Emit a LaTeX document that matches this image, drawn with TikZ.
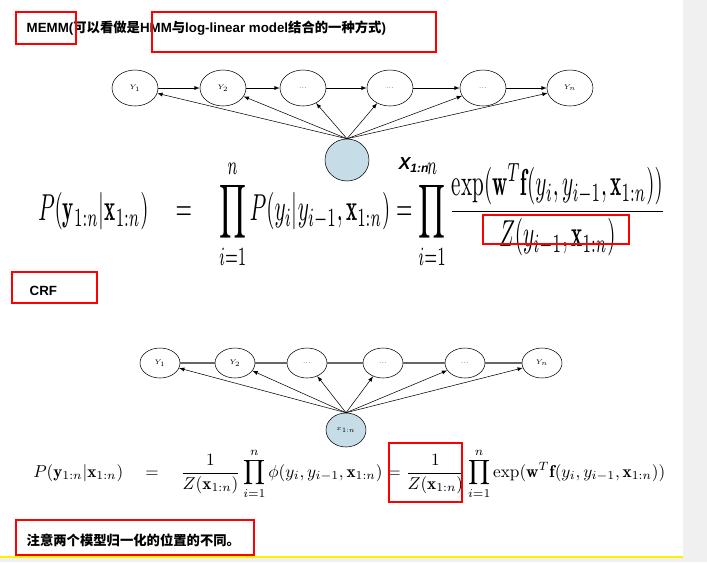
\documentclass[tikz,border=0pt]{standalone}
\usepackage{amsmath,graphicx}
\usepackage{fontspec}
\usetikzlibrary{shapes.geometric}
\setsansfont{Liberation Sans}
\newfontfamily\cjk{Noto Sans CJK SC}
\begin{document}
\begin{tikzpicture}[x=0.75pt,y=-0.75pt,
  ybig/.style={draw,ellipse,minimum width=46*0.75pt,minimum height=36*0.75pt,inner sep=0pt,font=\fontsize{5}{6}\selectfont},
  ysmall/.style={draw,ellipse,minimum width=40*0.75pt,minimum height=30*0.75pt,inner sep=0pt,font=\fontsize{5}{6}\selectfont},
  arr/.style={->,>=latex,thin},
  redbox/.style={draw=red,line width=1.8pt},
  lbl/.style={font=\sffamily\bfseries\fontsize{10}{12}\selectfont,anchor=west}]
\useasboundingbox (0,0) rectangle (707,562);
\fill[gray!12] (683,0) rectangle (707,562);
\fill[gray!12] (0,558) rectangle (707,562);
\draw[yellow,line width=2pt] (0,557) -- (683,557);
% texts
\node[lbl] (t1) at (22,28) {MEMM({\cjk 可以看做是}HMM{\cjk 与}log-linear model{\cjk 结合的一种方式})};
\node[lbl] (t2) at (25,291) {CRF};
\node[lbl] (t3) at (22,540) {\cjk 注意两个模型归一化的位置的不同。};
% top graph
\node[ybig] (a1) at (135,88) {$Y_1$};
\node[ybig] (a2) at (223,88) {$Y_2$};
\node[ybig] (a3) at (303,88) {...};
\node[ybig] (a4) at (390,88) {...};
\node[ybig] (a5) at (483,88) {...};
\node[ybig] (a6) at (570,88) {$Y_n$};
\node[draw,ellipse,fill=cyan!20!teal!25,minimum width=44*0.75pt,minimum height=42*0.75pt] (ax) at (347,160) {};
\node[font=\sffamily\bfseries\itshape\fontsize{13}{15}\selectfont] (axl) at (414,165) {X\textsubscript{1:n}};
\foreach \i/\j in {a1/a2,a2/a3,a3/a4,a4/a5,a5/a6} \draw[arr] (\i) -- (\j);
\foreach \i in {a1,a2,a3,a4,a5,a6} \draw[arr] (ax.north) -- (\i);
% bottom graph
\node[ysmall] (b1) at (160,363) {$Y_1$};
\node[ysmall] (b2) at (235,363) {$Y_2$};
\node[ysmall] (b3) at (307,363) {...};
\node[ysmall] (b4) at (383,363) {...};
\node[ysmall] (b5) at (465,363) {...};
\node[ysmall] (b6) at (542,363) {$Y_n$};
\node[draw,ellipse,fill=cyan!20!teal!25,minimum width=40*0.75pt,minimum height=34*0.75pt,inner sep=0pt,font=\fontsize{5}{6}\selectfont] (bx) at (346,430) {$x_{1:n}$};
\foreach \i/\j in {b1/b2,b2/b3,b3/b4,b4/b5,b5/b6} \draw[gray!80!black,line width=1pt] (\i) -- (\j);
\foreach \i in {b1,b2,b3,b4,b5,b6} \draw[arr] (bx.north) -- (\i);
% formulas
\node[anchor=west,inner sep=0pt] (f1) at (38,214) {\resizebox{627\dimexpr0.75pt\relax}{62\dimexpr0.75pt\relax}{$\displaystyle P(\mathbf{y}_{1:n}|\mathbf{x}_{1:n})\quad=\quad\prod_{i=1}^{n}P(y_i|y_{i-1},\mathbf{x}_{1:n})=\prod_{i=1}^{n}\frac{\exp(\mathbf{w}^T\mathbf{f}(y_i,y_{i-1},\mathbf{x}_{1:n}))}{Z(y_{i-1},\mathbf{x}_{1:n})}$}};
\node[anchor=west,inner sep=0pt] (f2) at (33,474) {\resizebox{632\dimexpr0.75pt\relax}{!}{$\displaystyle P(\mathbf{y}_{1:n}|\mathbf{x}_{1:n})\quad=\quad\frac{1}{Z(\mathbf{x}_{1:n})}\prod_{i=1}^{n}\phi(y_i,y_{i-1},\mathbf{x}_{1:n})=\frac{1}{Z(\mathbf{x}_{1:n})}\prod_{i=1}^{n}\exp(\mathbf{w}^T\mathbf{f}(y_i,y_{i-1},\mathbf{x}_{1:n}))$}};
% red boxes
\draw[redbox] (16,12) rectangle (76,44);
\draw[redbox] (152,12) rectangle (436,52);
\draw[redbox] (483,215) rectangle (629,244);
\draw[redbox] (12,272) rectangle (97,303);
\draw[redbox] (389,443) rectangle (462,502);
\draw[redbox] (16,520) rectangle (254,555);
\end{tikzpicture}
\end{document}
